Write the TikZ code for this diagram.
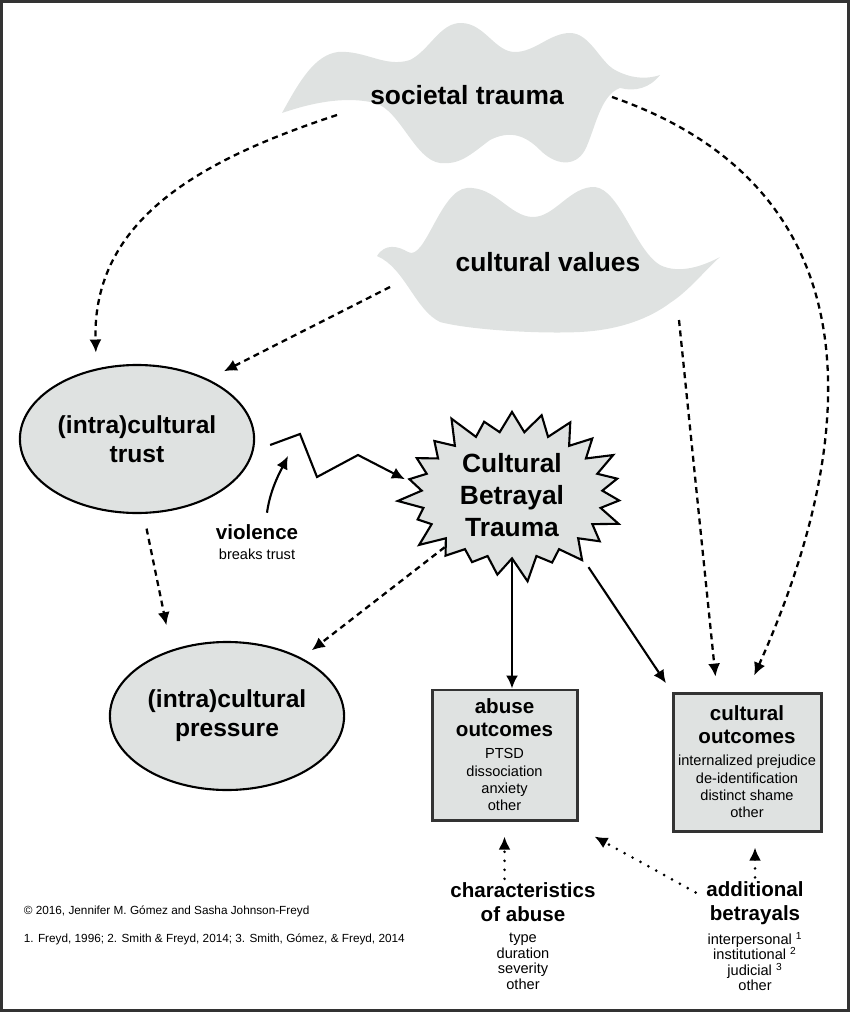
\documentclass[tikz,border=0pt]{standalone}
\usepackage{fontspec}
\setmainfont{Liberation Sans}
\usetikzlibrary{arrows.meta,calc,positioning,shapes.geometric,shapes.symbols}
\definecolor{boxgray}{HTML}{DFE2E1}
\definecolor{frame}{HTML}{333333}
\newcommand{\hd}[1]{{\fontsize{11.7}{13}\selectfont\bfseries #1}}

\begin{document}
\begin{tikzpicture}[x=0.2mm,y=-0.2mm, every node/.style={align=center,inner sep=2pt},
  cloudtxt/.style={font=\fontsize{15}{18}\selectfont\bfseries},
  oval/.style={ellipse,draw,line width=1.2pt,fill=boxgray,minimum width=4.52cm,minimum height=2.96cm,font=\fontsize{14}{16.5}\selectfont\bfseries},
  burst/.style={starburst,draw,line width=1.2pt,fill=boxgray,starburst points=23,starburst point height=0.55cm,minimum width=4.72cm,minimum height=3.56cm,font=\fontsize{15}{18}\selectfont\bfseries},
  outbox/.style={rectangle,draw=frame,line width=1.7pt,fill=boxgray,font=\fontsize{8.3}{9.9}\selectfont},
  lbl/.style={font=\fontsize{8.3}{8.8}\selectfont},
  note/.style={anchor=west,font=\fontsize{6.7}{8}\selectfont},
  arr/.style={line width=1.2pt,-{Latex[length=2.6mm,width=2.4mm]}},
  dasharr/.style={line width=1.3pt,dash pattern=on 1.2mm off 0.9mm,-{Latex[length=2.6mm,width=2.4mm]}},
  dotarr/.style={line width=1.7pt,line cap=round,dash pattern=on 0pt off 1.8mm,-{Latex[length=2.6mm,width=2.4mm]}}]
  \useasboundingbox (0,0) rectangle (850,1012);
  \draw[frame,line width=1.2pt] (1.5,1.5) rectangle (848.5,1010.5);

  % the two clouds
  \fill[boxgray] (282,113) .. controls (300,80) and (315,55) .. (338,52)
    .. controls (365,50) and (385,68) .. (410,60)
    .. controls (430,50) and (440,22) .. (462,23)
    .. controls (485,24) and (495,52) .. (515,52)
    .. controls (535,52) and (550,33) .. (570,33)
    .. controls (590,33) and (600,62) .. (615,70)
    .. controls (630,78) and (645,80) .. (660,75)
    .. controls (650,88) and (635,92) .. (620,88)
    .. controls (600,95) and (595,130) .. (585,150)
    .. controls (575,168) and (555,165) .. (540,150)
    .. controls (525,135) and (510,130) .. (490,140)
    .. controls (470,155) and (460,165) .. (440,163)
    .. controls (415,160) and (400,110) .. (375,103)
    .. controls (350,97) and (320,100) .. (282,113) -- cycle;
  \fill[boxgray] (377,256) .. controls (385,243) and (398,246) .. (408,252)
    .. controls (425,262) and (440,190) .. (467,188)
    .. controls (495,186) and (510,217) .. (533,217)
    .. controls (555,217) and (570,186) .. (595,187)
    .. controls (620,190) and (635,250) .. (660,265)
    .. controls (680,275) and (705,265) .. (720,257)
    .. controls (705,270) and (690,290) .. (670,303)
    .. controls (650,318) and (620,330) .. (580,332)
    .. controls (540,334) and (470,330) .. (440,322)
    .. controls (415,310) and (405,268) .. (377,256) -- cycle;
  \node[cloudtxt] (soc) at (467,95) {societal trauma};
  \node[cloudtxt] (val) at (548,262) {cultural values};
  \coordinate (soc-l) at (337,115);
  \coordinate (soc-r) at (612,97);
  \coordinate (val-l) at (390,287);
  \coordinate (val-b) at (679,320);

  \node[oval] (trust) at (137,439) {(intra)cultural\\trust};
  \node[oval] (press) at (227,716) {(intra)cultural\\pressure};
  \node[burst] (cbt) at (512,495) {Cultural\\Betrayal\\Trauma};
  \node[outbox,minimum width=2.9cm,minimum height=2.6cm] (abuse) at (504.5,755)
    {\hd{abuse}\\[3.1pt]\hd{outcomes}\\[2.6pt]PTSD\\dissociation\\anxiety\\other};
  \node[outbox,minimum width=2.96cm,minimum height=2.76cm] (cult) at (747,762)
    {\hd{cultural}\\[3.1pt]\hd{outcomes}\\[2.6pt]internalized prejudice\\de-identification\\distinct shame\\other};
  \node[lbl] (char) at (523,936) {\hd{characteristics}\\[5pt]\hd{of abuse}\\[3.2pt]type\\duration\\severity\\other};
  \node[lbl] (add) at (755,936) {\hd{additional}\\[5pt]\hd{betrayals}\\[3.2pt]interpersonal \textsuperscript{1}\\institutional \textsuperscript{2}\\judicial \textsuperscript{3}\\other};
  \node[lbl] (viol) at (257,542) {\hd{violence}\\[3pt]breaks trust};
  \coordinate (brk) at (288,456);

  \node[note] (copy) at (20,911) {© 2016, Jennifer M. Gómez and Sasha Johnson-Freyd};
  \node[note] (refs) at (20,939) {1. Freyd, 1996; 2. Smith \& Freyd, 2014; 3. Smith, Gómez, \& Freyd, 2014};

  % connectors
  \draw[dasharr,shorten >=3.2mm] (soc-l) .. controls (200,160) and (92,220) .. (trust.120);
  \draw[dasharr,shorten >=3.5mm] (val-l) -- (trust.40);
  \draw[dasharr,shorten <=3mm,shorten >=5mm] (trust.-85) -- (press.130);
  \draw[dasharr,shorten >=2.5mm] (cbt) -- (press);
  \draw[arr] ([xshift=3mm,yshift=-1.2mm]trust.east) -- (300,434) -- (317,477) -- (358,455) -- ($(cbt.173)!1.5mm!(358,455)$);
  \draw[arr] ([xshift=2mm,yshift=1.5mm]viol.north) .. controls (270,490) and (280,472) .. (brk);
  \draw[arr] (cbt.south) -- (cbt.south |- abuse.north);
  \draw[arr,shorten <=2mm,shorten >=2mm] (cbt.-42) -- (cult.north west);
  \draw[dasharr,shorten >=3.5mm] (soc-r) .. controls (880,190) and (860,440) .. (cult.north);
  \draw[dasharr,shorten >=3mm] (val-b) -- ([xshift=-6mm]cult.north);
  \draw[dotarr,shorten >=3mm] (add.north) -- (add.north |- cult.south);
  \draw[dotarr,shorten >=3mm] (abuse.south |- char.north) -- (abuse.south);
  \draw[dotarr] ([xshift=-1.4mm,yshift=-3mm]add.north west) -- ([xshift=3.2mm,yshift=-3mm]abuse.south east);
\end{tikzpicture}
\end{document}
